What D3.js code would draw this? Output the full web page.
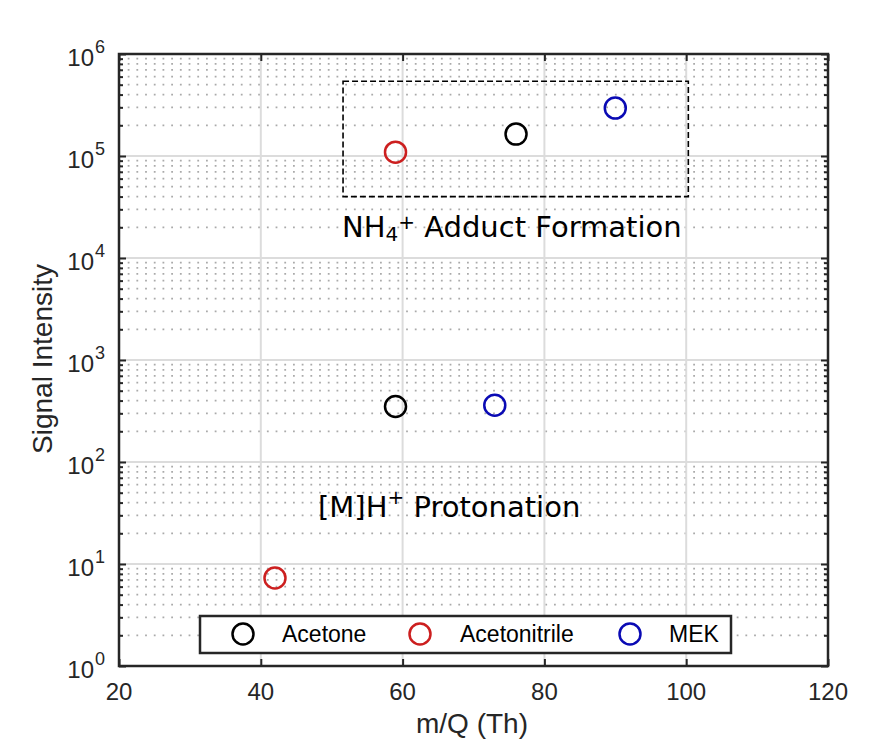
<!DOCTYPE html>
<html><head><meta charset="utf-8">
<script src="https://cdn.jsdelivr.net/npm/d3@7"></script>
<style>body{margin:0;background:#fff}svg{display:block}</style>
</head><body>
<script>
const seriesNames = ["Acetone", "Acetonitrile", "MEK"];
const seriesColors = ["#000000", "#cc1f1f", "#0a0ab4"];
const acetoneX = [59, 76];
const acetoneY = [350, 1.64e5];
const acetonitrileX = [42, 59];
const acetonitrileY = [7.3, 1.09e5];
const mekX = [73, 90];
const mekY = [360, 2.95e5];
const xTicks = [20, 40, 60, 80, 100, 120];
const yTicksExp = [0, 1, 2, 3, 4, 5, 6];
const boxX = [51.6, 100.3];
const boxY = [4e4, 5.4e5];

const W = 877, H = 747;
const L = 119, R = 828, T = 54, B = 666;
const svg = d3.select("body").append("svg").attr("width", W).attr("height", H);
const x = d3.scaleLinear().domain([20, 120]).range([L, R]);
const y = d3.scaleLog().domain([1, 1e6]).range([B, T]);

// minor y grid
const minor = [];
for (let e = 0; e < 6; e++) for (let k = 2; k <= 9; k++) minor.push(k * Math.pow(10, e));
svg.append("g").selectAll("line").data(minor).join("line")
  .attr("x1", L).attr("x2", R).attr("y1", d => y(d)).attr("y2", d => y(d))
  .attr("stroke", "#aaaaaa").attr("stroke-width", 1.8).attr("stroke-dasharray", "1.8,6.9");
// major grid
svg.append("g").selectAll("line").data(yTicksExp).join("line")
  .attr("x1", L).attr("x2", R).attr("y1", d => y(Math.pow(10, d))).attr("y2", d => y(Math.pow(10, d)))
  .attr("stroke", "#dcdcdc").attr("stroke-width", 2);
svg.append("g").selectAll("line").data(xTicks).join("line")
  .attr("x1", d => x(d)).attr("x2", d => x(d)).attr("y1", T).attr("y2", B)
  .attr("stroke", "#dcdcdc").attr("stroke-width", 2);

// axes with inward ticks
svg.append("g").attr("transform", `translate(0,${B})`)
  .call(d3.axisBottom(x).tickValues(xTicks).tickSize(-7).tickFormat(""));
svg.append("g").attr("transform", `translate(${L},0)`)
  .call(d3.axisLeft(y).tickValues(yTicksExp.map(e => Math.pow(10, e))).tickSize(-7).tickFormat(""));
svg.append("g").attr("transform", `translate(${L},0)`)
  .call(d3.axisLeft(y).tickValues(minor).tickSize(-4).tickFormat(""));
svg.append("g").attr("transform", `translate(${R},0)`)
  .call(d3.axisRight(y).tickValues(minor).tickSize(-4).tickFormat(""));
svg.append("g").attr("transform", `translate(${R},0)`)
  .call(d3.axisRight(y).tickValues(yTicksExp.map(e => Math.pow(10, e))).tickSize(-7).tickFormat(""));
svg.append("g").attr("transform", `translate(0,${T})`)
  .call(d3.axisTop(x).tickValues(xTicks).tickSize(-7).tickFormat(""));
svg.selectAll(".domain").remove();
svg.selectAll(".tick line").attr("stroke", "#262626").attr("stroke-width", 2);

svg.append("rect").attr("x", L).attr("y", T).attr("width", R - L).attr("height", B - T)
  .attr("fill", "none").attr("stroke", "#262626").attr("stroke-width", 2.5);

// tick labels
const font = "'Liberation Sans', Arial, sans-serif";
svg.append("g").selectAll("text").data(xTicks).join("text")
  .attr("x", d => x(d)).attr("y", B + 34).attr("text-anchor", "middle")
  .attr("font-family", font).attr("font-size", 24).attr("fill", "#262626").text(d => d);
svg.append("g").selectAll("text").data(yTicksExp).join("text")
  .attr("x", L - 25).attr("y", d => y(Math.pow(10, d)) + 12).attr("text-anchor", "end")
  .attr("font-family", font).attr("font-size", 24).attr("fill", "#262626").text("10");
svg.append("g").selectAll("text").data(yTicksExp).join("text")
  .attr("x", L - 24).attr("y", d => y(Math.pow(10, d)) - 1).attr("text-anchor", "start")
  .attr("font-family", font).attr("font-size", 18).attr("fill", "#262626").text(d => d);

// axis titles
svg.append("text").attr("x", 472).attr("y", 733).attr("text-anchor", "middle")
  .attr("font-family", font).attr("font-size", 28).attr("fill", "#262626").text("m/Q (Th)");
svg.append("text").attr("transform", `translate(52,359) rotate(-90)`).attr("text-anchor", "middle")
  .attr("font-family", font).attr("font-size", 28).attr("fill", "#262626").text("Signal Intensity");

// dashed box
svg.append("rect").attr("x", x(boxX[0])).attr("y", y(boxY[1]))
  .attr("width", x(boxX[1]) - x(boxX[0])).attr("height", y(boxY[0]) - y(boxY[1]))
  .attr("fill", "none").attr("stroke", "#000").attr("stroke-width", 1.6).attr("stroke-dasharray", "6,3");

// annotations
const afont = "'DejaVu Sans', Verdana, sans-serif";
const t1 = svg.append("text").attr("x", 342).attr("y", 237).attr("font-family", afont).attr("font-size", 29).attr("fill", "#000");
t1.append("tspan").text("NH");
t1.append("tspan").attr("font-size", 20).attr("dy", 4).text("4");
t1.append("tspan").attr("font-size", 20).attr("dx", 0).attr("dy", -12).text("+");
t1.append("tspan").attr("dy", 8).text(" Adduct Formation");
const t2 = svg.append("text").attr("x", 318).attr("y", 517).attr("font-family", afont).attr("font-size", 29).attr("fill", "#000");
t2.append("tspan").text("[M]H");
t2.append("tspan").attr("font-size", 20).attr("dy", -13).text("+");
t2.append("tspan").attr("dy", 13).text(" Protonation");

// points
const series = [
  {xs: acetoneX, ys: acetoneY},
  {xs: acetonitrileX, ys: acetonitrileY},
  {xs: mekX, ys: mekY}
];
series.forEach((s, i) => {
  svg.append("g").selectAll("circle").data(s.xs.map((v, j) => [v, s.ys[j]])).join("circle")
    .attr("cx", d => x(d[0])).attr("cy", d => y(d[1])).attr("r", 10.5)
    .attr("fill", "none").attr("stroke", seriesColors[i]).attr("stroke-width", 2.5);
});

// legend
const lg = svg.append("g");
lg.append("rect").attr("x", 200).attr("y", 616).attr("width", 531).attr("height", 37)
  .attr("fill", "#fff").attr("stroke", "#262626").attr("stroke-width", 2.5);
const legX = [243, 420, 630];
const legTX = [282, 460, 669];
seriesNames.forEach((n, i) => {
  lg.append("circle").attr("cx", legX[i]).attr("cy", 634).attr("r", 10.5)
    .attr("fill", "none").attr("stroke", seriesColors[i]).attr("stroke-width", 2.5);
  lg.append("text").attr("x", legTX[i]).attr("y", 642).attr("font-family", font).attr("font-size", 23)
    .attr("fill", "#000").text(n);
});
</script>
</body></html>
